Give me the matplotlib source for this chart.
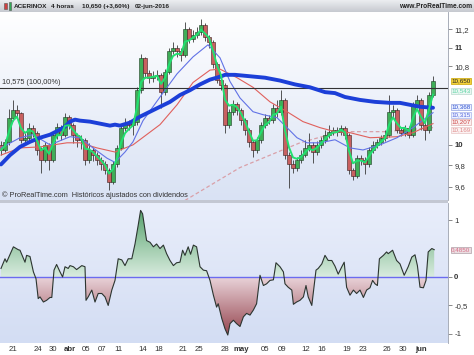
import numpy as np
import pandas as pd
import matplotlib
matplotlib.use("Agg")
import matplotlib.pyplot as plt
from matplotlib.colors import LinearSegmentedColormap
from matplotlib.path import Path
from matplotlib.patches import Rectangle
from matplotlib.ticker import NullLocator
import matplotlib.transforms as mtransforms

plt.rcParams['font.family'] = ['Liberation Sans', 'DejaVu Sans']

# ACERINOX, 4h bars (index = bar number)
opens = [10.00, 9.95, 10.03, 10.27, 10.35, 10.32, 10.05, 10.07, 10.17, 10.12,
         9.95, 9.85, 10.00, 9.85, 10.10, 10.18, 10.10, 10.28, 10.20, 10.10,
         10.05, 10.05, 9.85, 9.95, 9.90, 9.85, 9.81, 9.76, 9.64, 9.81,
         9.97, 10.17, 10.21, 10.20, 10.23, 10.55, 10.89, 10.73, 10.68, 10.70,
         10.71, 10.53, 10.74, 10.96, 11.00, 10.96, 10.92, 11.20, 11.09, 11.14,
         11.17, 11.25, 11.11, 11.06, 10.82, 10.66, 10.60, 10.20, 10.33, 10.41,
         10.35, 10.25, 10.15, 10.03, 9.95, 10.05, 10.20, 10.27, 10.25, 10.37,
         10.33, 10.45, 9.90, 9.81, 9.78, 9.85, 9.90, 9.97, 10.00, 9.93,
         10.00, 10.05, 10.10, 10.13, 10.15, 10.13, 10.17, 10.10, 9.76, 9.70,
         9.87, 9.85, 9.81, 9.95, 10.00, 10.03, 10.07, 10.10, 10.33, 10.35,
         10.15, 10.12, 10.17, 10.10, 10.40, 10.45, 10.20, 10.15, 10.50]
closes = [9.95, 10.03, 10.27, 10.35, 10.32, 10.05, 10.07, 10.17, 10.12, 9.95,
          9.85, 10.00, 9.85, 10.10, 10.18, 10.10, 10.28, 10.20, 10.10, 10.05,
          10.05, 9.85, 9.95, 9.90, 9.85, 9.81, 9.76, 9.64, 9.81, 9.97,
          10.17, 10.21, 10.20, 10.23, 10.55, 10.89, 10.73, 10.68, 10.70, 10.71,
          10.53, 10.74, 10.96, 11.00, 10.96, 10.92, 11.20, 11.09, 11.14, 11.17,
          11.25, 11.11, 11.06, 10.82, 10.66, 10.60, 10.20, 10.33, 10.41, 10.35,
          10.25, 10.15, 10.03, 9.95, 10.05, 10.20, 10.27, 10.25, 10.37, 10.33,
          10.45, 9.90, 9.81, 9.78, 9.85, 9.90, 9.97, 10.00, 9.93, 10.00,
          10.05, 10.10, 10.13, 10.15, 10.13, 10.17, 10.10, 9.76, 9.70, 9.87,
          9.85, 9.81, 9.95, 10.00, 10.03, 10.07, 10.10, 10.33, 10.35, 10.15,
          10.12, 10.17, 10.10, 10.40, 10.45, 10.20, 10.15, 10.50, 10.65]
highs = [10.04, 10.06, 10.36, 10.45, 10.40, 10.33, 10.12, 10.22, 10.20, 10.14,
         9.98, 10.03, 10.02, 10.13, 10.22, 10.20, 10.32, 10.30, 10.22, 10.12,
         10.10, 10.07, 10.02, 9.98, 9.93, 9.88, 9.84, 9.78, 9.84, 10.00,
         10.20, 10.27, 10.25, 10.27, 10.58, 10.93, 10.90, 10.76, 10.75, 10.76,
         10.73, 10.77, 10.99, 11.06, 11.03, 10.99, 11.28, 11.22, 11.19, 11.22,
         11.31, 11.27, 11.14, 11.08, 10.85, 10.70, 10.62, 10.36, 10.45, 10.43,
         10.37, 10.27, 10.17, 10.05, 10.08, 10.23, 10.31, 10.30, 10.41, 10.45,
         10.55, 10.47, 9.93, 9.85, 9.88, 9.95, 10.05, 10.12, 10.03, 10.04,
         10.08, 10.15, 10.20, 10.18, 10.18, 10.20, 10.19, 10.12, 9.78, 9.90,
         9.90, 9.88, 9.98, 10.04, 10.06, 10.10, 10.15, 10.50, 10.40, 10.37,
         10.18, 10.20, 10.19, 10.43, 10.50, 10.47, 10.24, 10.53, 10.70]
lows = [9.90, 9.93, 10.00, 10.24, 10.28, 10.02, 10.00, 10.05, 10.08, 9.90,
        9.73, 9.83, 9.76, 9.83, 10.06, 10.05, 10.08, 10.16, 10.02, 9.98,
        9.96, 9.80, 9.82, 9.84, 9.80, 9.76, 9.72, 9.57, 9.62, 9.79,
        9.95, 10.14, 10.15, 10.10, 10.20, 10.52, 10.68, 10.62, 10.64, 10.66,
        10.37, 10.50, 10.72, 10.93, 10.90, 10.86, 10.90, 11.05, 11.06, 11.10,
        11.14, 11.07, 11.00, 10.78, 10.62, 10.55, 10.12, 10.17, 10.30, 10.30,
        10.20, 10.10, 9.98, 9.88, 9.92, 10.02, 10.17, 10.21, 10.22, 10.28,
        10.30, 9.86, 9.59, 9.73, 9.75, 9.82, 9.88, 9.94, 9.82, 9.90,
        9.97, 10.02, 10.07, 10.10, 10.09, 10.10, 10.06, 9.72, 9.66, 9.68,
        9.80, 9.72, 9.79, 9.92, 9.97, 10.00, 10.04, 10.08, 10.28, 10.12,
        10.09, 10.09, 10.07, 10.08, 10.37, 10.15, 10.05, 10.12, 10.48]

# moving averages (bar position, value)
slow_x = [0, 2.25, 4.75, 7.25, 9.75, 12.25, 14.75, 16, 17.25, 18.5,
          19.75, 22.25, 24.75, 27.25, 28.5, 29.75, 32.25, 34.75, 37.25, 39.75,
          42.25, 44.75, 47.25, 49.75, 52.25, 54.75, 56, 58.5, 61, 63.5,
          66, 69.75, 73.5, 77.25, 81, 83.5, 86, 89.75, 93.5, 97.25,
          99.75, 102.25, 104.75, 108]
slow_v = [9.81, 9.90, 9.98, 10.03, 10.07, 10.10, 10.15, 10.18, 10.23, 10.25,
          10.24, 10.23, 10.21, 10.19, 10.20, 10.19, 10.22, 10.28, 10.33, 10.38,
          10.43, 10.50, 10.55, 10.61, 10.66, 10.69, 10.71, 10.71, 10.70, 10.69,
          10.68, 10.65, 10.61, 10.58, 10.53, 10.52, 10.48, 10.45, 10.43, 10.42,
          10.42, 10.40, 10.38, 10.37]
mid_x = [0, 4.75, 8, 12.25, 17.25, 19.75, 23, 26.5, 28.5, 31,
         33, 35.5, 39.75, 44, 48, 51.75, 54.75, 57.25, 59.75, 63,
         65.5, 69, 71.5, 74, 76.5, 79.75, 83.5, 87.25, 90.5, 94.75,
         99, 103, 108]
mid_v = [9.97, 10.07, 10.10, 10.00, 10.08, 10.07, 9.97, 9.87, 9.83, 9.93,
         10.03, 10.24, 10.48, 10.72, 10.90, 11.03, 10.89, 10.64, 10.47, 10.33,
         10.30, 10.27, 10.17, 10.07, 10.02, 10.02, 10.05, 9.97, 9.95, 10.00,
         10.07, 10.17, 10.32]
long_x = [0, 4.75, 9.75, 16.5, 19.75, 24, 28.5, 33, 39.75, 44,
          48, 52.25, 54.75, 59, 63, 67.25, 71.5, 75.5, 79.75, 83.5,
          87.25, 92.25, 99, 103, 108]
long_v = [9.90, 9.97, 9.98, 10.02, 10.02, 9.97, 9.93, 10.00, 10.20, 10.40,
          10.63, 10.76, 10.77, 10.68, 10.58, 10.43, 10.33, 10.23, 10.17, 10.13,
          10.12, 10.07, 10.08, 10.12, 10.21]
dotted_x = [46, 59.75, 74.75, 84.75, 96, 108]
dotted_v = [9.47, 9.78, 10.02, 10.13, 10.13, 10.17]

# oscillator (lower panel)
osc_x = [0, 1.0, 1.4, 3.1, 4.3, 4.75, 6.0, 6.4, 7.25, 8.1,
         8.75, 9.3, 9.75, 10.6, 11.4, 12.25, 12.7, 13.25, 13.9, 14.75,
         15.4, 16.0, 16.8, 17.25, 18.1, 18.9, 20.2, 21.0, 21.25, 21.8,
         22.7, 23.5, 24.3, 25.2, 26.0, 26.8, 27.7, 28.5, 29.3, 30.2,
         31.0, 31.8, 32.7, 33.5, 34.3, 34.9, 35.4, 36.4, 37.25, 38.1,
         38.9, 39.75, 40.6, 41.4, 42.25, 43.1, 43.9, 44.75, 45.4, 46.0,
         46.8, 47.4, 48.1, 48.9, 49.75, 50.6, 51.4, 52.25, 53.1, 53.9,
         54.3, 55.2, 56.0, 56.7, 57.25, 58.1, 58.9, 59.75, 60.6, 61.4,
         62.25, 63.1, 63.9, 64.75, 65.6, 66.4, 67.25, 68.1, 68.75, 69.75,
         70.6, 71.0, 71.8, 72.7, 73.1, 73.9, 74.75, 75.6, 76.25, 76.8,
         77.7, 78.75, 79.3, 80.2, 81.0, 81.8, 82.7, 83.5, 84.3, 85.2,
         85.8, 86.4, 87.25, 88.1, 88.9, 89.75, 90.6, 91.4, 92.25, 92.9,
         93.5, 94.1, 94.6, 95.6, 96.4, 96.8, 97.9, 98.9, 99.75, 100.8,
         101.8, 102.7, 103.5, 104.1, 104.75, 105.6, 106.25, 106.8, 107.7, 108.3]
osc_v = [0.15, 0.32, 0.26, 0.53, 0.48, 0.47, 0.26, 0.38, 0.36, 0.09,
         -0.03, -0.38, -0.35, -0.44, -0.41, -0.36, -0.36, 0.12, 0.22, 0.09,
         0.0, 0.18, 0.15, 0.20, 0.18, 0.13, 0.20, 0.18, -0.41, -0.35,
         -0.23, -0.44, -0.29, -0.29, -0.35, -0.50, -0.23, -0.06, 0.32, 0.30,
         0.20, 0.32, 0.32, 0.58, 0.91, 1.17, 1.11, 0.64, 0.61, 0.53,
         0.58, 0.50, 0.56, 0.41, 0.29, 0.20, 0.25, 0.26, 0.47, 0.38,
         0.53, 0.40, 0.56, 0.53, 0.18, 0.12, 0.11, -0.06, -0.32, -0.53,
         -0.47, -0.73, -0.91, -1.02, -0.82, -0.76, -0.82, -0.87, -0.70, -0.64,
         -0.67, -0.58, -0.47, 0.03, -0.15, -0.12, -0.06, -0.05, 0.25, 0.18,
         0.09, -0.12, -0.18, -0.23, -0.48, -0.44, -0.41, -0.35, -0.15, -0.35,
         -0.50, 0.12, 0.15, 0.23, 0.38, 0.29, 0.29, 0.19, 0.05, 0.18,
         0.26, -0.18, -0.32, -0.23, -0.29, -0.23, -0.36, -0.23, -0.19, -0.06,
         -0.12, -0.15, 0.32, 0.38, 0.44, 0.41, 0.47, 0.29, 0.23, 0.03,
         0.18, 0.35, 0.39, 0.20, -0.18, -0.19, -0.06, 0.44, 0.50, 0.48]

date_ticks = [3.0, 9.25, 13.0, 17.25, 21.25, 25.25, 29.25, 35.5, 39.5, 45.5, 49.5,
              56.0, 60.0, 66.0, 70.25, 76.25, 80.25, 86.5, 90.5, 96.5, 100.5, 105.0]
date_labels = ["21", "24", "30", "abr", "05", "07", "11", "14", "18", "21", "25",
               "28", "may", "05", "09", "12", "16", "19", "23", "26", "30", "jun"]
month_labels = ["abr", "may", "jun"]

price_ticks = [9.6, 9.8, 10.0, 10.8, 11.0, 11.2]
price_tick_labels = ["9,6", "9,8", "10", "10,8", "11", "11,2"]
osc_ticks = [-1, -0.5, 0, 1]
osc_tick_labels = ["-1", "-0,5", "0", "1"]

# last-value tags on the right: (value, text, text colour, face, edge)
tags = [(10.650, "10,650", "#222222", "#f3d23c", "#c9a400"),
        (10.543, "10,543", "#5fd6a6", "#e9f6f1", "#b8d8cc"),
        (10.368, "10,368", "#2b4fd0", "#eef2ff", "#8fa0e0"),
        (10.315, "10,315", "#5566dd", "#eef2ff", "#a8b4ea"),
        (10.207, "10,207", "#cc4444", "#fbefef", "#e0b0b0"),
        (10.169, "10,169", "#e08a8a", "#fbf2f2", "#e8c4c4")]
tag_nudge = [0, 0, 1.0, -1.0, 1.5, -1.5]   # points, to keep the stacked tags apart

W, H = 474, 355
xlim = (-0.25, 111.75)


def rect(x0, y0, x1, y1):
    return [x0 / W, 1 - y1 / H, (x1 - x0) / W, (y1 - y0) / H]


fig = plt.figure(figsize=(W / 100, H / 100), dpi=100)
fig.patch.set_facecolor("white")

# background gradients
grad = np.linspace(0, 1, 256).reshape(-1, 1)
bg_main = LinearSegmentedColormap.from_list("bgm", ["#d9e2f4", "#ffffff"])
bg_low = LinearSegmentedColormap.from_list("bgl", ["#d3ddf3", "#e9eefb"])
for r, cm in [(rect(0, 12, 448, 200), bg_main), (rect(0, 203, 448, 343), bg_low)]:
    bax = fig.add_axes(r, zorder=0)
    bax.imshow(grad, extent=[0, 1, 0, 1], origin="lower", aspect="auto", cmap=cm)
    bax.set_axis_off()

fig.patches.append(Rectangle((0, 1 - 203 / H), 448 / W, 3 / H, transform=fig.transFigure,
                             facecolor="#c3c7d2", edgecolor="none", zorder=1))

# header
hax = fig.add_axes(rect(0, 0, 474, 12), zorder=2)
hcm = LinearSegmentedColormap.from_list("hd", ["#c6c9cf", "#eceef1"])
hax.imshow(grad, extent=[0, 1, 0, 1], origin="lower", aspect="auto", cmap=hcm)
hax.set_xlim(0, 1)
hax.set_ylim(0, 1)
hax.set_axis_off()
hax.add_patch(Rectangle((4 / W, 0.25), 2.5 / W, 0.5, facecolor="#d04040", edgecolor="#555555", lw=0.4))
hax.add_patch(Rectangle((8.5 / W, 0.2), 2.5 / W, 0.6, facecolor="#33aa55", edgecolor="#555555", lw=0.4))
for px, s in [(14, "ACERINOX"), (51, "4 horas"), (82, "10,650 (+3,60%)"), (135, "02-jun-2016")]:
    hax.text(px / W, 0.45, s, fontsize=4.6, fontweight="bold", color="#222222", va="center", ha="left")
hax.text(472 / W, 0.45, "www.ProRealTime.com", fontsize=4.8, fontweight="bold", color="#222222",
         va="center", ha="right")

# main price panel
ax = fig.add_axes(rect(0, 12, 448, 200), zorder=3)
ax.set_facecolor("none")
ax.set_yscale("log")

xs = np.arange(len(closes))
o = np.array(opens)
c = np.array(closes)
up = c >= o
body_lo = np.minimum(o, c)
body_h = np.maximum(np.abs(c - o), 0.006)
ax.vlines(xs, lows, highs, color="#3a3a3a", lw=0.6, zorder=3)
ax.bar(xs[up], body_h[up], bottom=body_lo[up], width=0.8, color="#3fae58",
       edgecolor="#1e3a22", lw=0.4, zorder=4)
ax.bar(xs[~up], body_h[~up], bottom=body_lo[~up], width=0.8, color="#c86060",
       edgecolor="#3a1e1e", lw=0.4, zorder=4)

fast = pd.Series(closes).ewm(span=3, adjust=False).mean().to_numpy()
ax.plot(dotted_x, dotted_v, color="#d9a0a8", lw=0.9, ls=(0, (3, 2)), zorder=2)
ax.plot(long_x, long_v, color="#e0605c", lw=0.8, zorder=5)
ax.plot(mid_x, mid_v, color="#6172e6", lw=0.8, zorder=5)
ax.plot(slow_x, slow_v, color="#1c3fd8", lw=2.8, solid_capstyle="round", zorder=6)
ax.plot(xs, fast, color="#22e070", lw=1.4, zorder=7)

ax.axhline(10.575, color="#333333", lw=0.8, zorder=5)
ax.text(0.3, 10.575 * 1.002, "10,575 (100,00%)", fontsize=5.3, color="#333333",
        va="bottom", ha="left", zorder=8)
ax.text(0.004, 0.006, "\u00a9 ProRealTime.com  Hist\u00f3ricos ajustados con dividendos",
        transform=ax.transAxes, fontsize=5.3, color="#333333", va="bottom", ha="left", zorder=8)

ax.set_xlim(*xlim)
ax.set_ylim(9.474, 11.39)
ax.yaxis.tick_right()
ax.set_yticks(price_ticks)
ax.set_yticklabels(price_tick_labels)
ax.yaxis.set_minor_locator(NullLocator())
for lab in ax.get_yticklabels():
    if lab.get_text() in ("10", "11"):
        lab.set_fontweight("bold")
ax.tick_params(axis="y", labelsize=5.6, length=3, width=0.6, color="#777777", pad=1.5,
               labelcolor="#333333")
ax.set_xticks([])
for s in ["top", "left", "bottom"]:
    ax.spines[s].set_visible(False)
ax.spines["right"].set_color("#9aa0ad")
ax.spines["right"].set_linewidth(0.6)

trans = mtransforms.blended_transform_factory(ax.transAxes, ax.transData)
for (val, txt, tc, fc, ec), dy in zip(tags, tag_nudge):
    tr = mtransforms.offset_copy(trans, fig=fig, y=dy, units="points")
    ax.text(1.007, val, txt, transform=tr, fontsize=4.5, color=tc, va="center", ha="left",
            zorder=9, clip_on=False,
            bbox=dict(boxstyle="square,pad=0.08", facecolor=fc, edgecolor=ec, lw=0.5))

# oscillator panel
ax2 = fig.add_axes(rect(0, 203, 448, 343), zorder=3)
ax2.set_facecolor("none")
ox = np.array(osc_x)
ov = np.array(osc_v)

green_cm = LinearSegmentedColormap.from_list("g", ["#d9ecdf", "#4f9e66"])
red_cm = LinearSegmentedColormap.from_list("r", ["#e9d3d9", "#8f3a44"])
pos = ax2.fill_between(ox, 0, ov, where=ov >= 0, interpolate=True, color="none", lw=0)
neg = ax2.fill_between(ox, 0, ov, where=ov <= 0, interpolate=True, color="none", lw=0)
im_p = ax2.imshow(grad, extent=[ox[0], ox[-1], 0, 1.25], origin="lower", aspect="auto",
                  cmap=green_cm, zorder=1)
im_p.set_clip_path(Path.make_compound_path(*pos.get_paths()), transform=ax2.transData)
im_n = ax2.imshow(grad[::-1], extent=[ox[0], ox[-1], -1.1, 0], origin="lower", aspect="auto",
                  cmap=red_cm, zorder=1)
im_n.set_clip_path(Path.make_compound_path(*neg.get_paths()), transform=ax2.transData)

ax2.axhline(0, color="#6b6bf0", lw=1.0, zorder=2)
ax2.plot(ox, ov, color="#2c3530", lw=0.8, zorder=3)

ax2.set_xlim(*xlim)
ax2.set_ylim(-1.16, 1.30)
ax2.yaxis.tick_right()
ax2.set_yticks(osc_ticks)
ax2.set_yticklabels(osc_tick_labels)
for lab in ax2.get_yticklabels():
    if lab.get_text() == "0":
        lab.set_fontweight("bold")
ax2.tick_params(axis="y", labelsize=5.6, length=3, width=0.6, color="#777777", pad=1.5,
                labelcolor="#333333")
ax2.set_xticks(date_ticks)
ax2.set_xticklabels(date_labels)
for lab in ax2.get_xticklabels():
    if lab.get_text() in month_labels:
        lab.set_fontweight("bold")
ax2.tick_params(axis="x", labelsize=5.6, length=0, pad=2, labelcolor="#333333")
for s in ["top", "left", "bottom"]:
    ax2.spines[s].set_visible(False)
ax2.spines["right"].set_color("#9aa0ad")
ax2.spines["right"].set_linewidth(0.6)

trans2 = mtransforms.blended_transform_factory(ax2.transAxes, ax2.transData)
ax2.text(1.007, osc_v[-1], "0,4850", transform=trans2, fontsize=4.5, color="#d86f88",
         va="center", ha="left", clip_on=False, zorder=9,
         bbox=dict(boxstyle="square,pad=0.08", facecolor="#eadde1", edgecolor="#b0a0a8", lw=0.5))

fig.savefig("out.png", dpi=100)
